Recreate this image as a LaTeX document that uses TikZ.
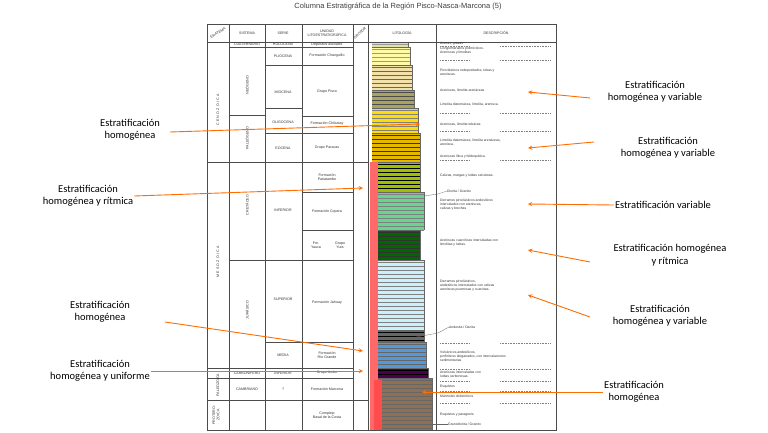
\documentclass[tikz,border=0pt]{standalone}
\usepackage{fontspec}
\setmainfont{Carlito}
\newfontfamily\arl{Liberation Sans}
\begin{document}
\begin{tikzpicture}[x=1pt,y=-1pt,
 lab/.style={font=\fontsize{10.5}{12.5}\selectfont,align=center,text=black,inner sep=1pt},
 arr/.style={draw=orange!85!red,line width=0.9pt,-stealth},
 tx/.style={font=\arl\fontsize{3.6}{4.2}\selectfont,inner sep=0pt,text=black!80},
 ds/.style={font=\arl\fontsize{3.4}{4}\selectfont,inner sep=0pt,anchor=west,text=black!80,align=left},
 grid/.style={draw=black!70,line width=0.4pt}]
\useasboundingbox (0,0) rectangle (768,433);
\fill[white] (0,0) rectangle (768,433);
\node[font=\arl\fontsize{7.5}{8}\selectfont,text=black!75] (title) at (398,7) {Columna Estratigráfica de la Región Pisco-Nasca-Marcona (5)};
% lithology
\foreach \a/\b/\r/\c/\l in {42/47/408/{black!30!yellow!40}/black!40,47/65/410/{yellow!35}/black!40,65/90/412/{yellow!45!brown!40}/black!60,90/108/414/{olive!70!black!60}/black!70,108/133/418/{yellow!80!orange}/black!50,133/162/420/{orange!40!yellow!90!black}/black!80,162/192/420/{lime!50!olive}/black,192/230/424/{teal!55!green!60}/black!50,230/260/420/{green!40!black}/black!80,260/330/424/{cyan!20}/black!50,330/342/424/{black!60}/black,342/368/426/{cyan!60!blue!70}/black!60,368/378/428/{violet!60!black}/black,378/430/432/{brown!60!black!80}/black!60}{
 \fill[\c] (372,\a) rectangle (\r,\b);
 \begin{scope}
 \clip (372,\a) rectangle (\r,\b);
 \foreach \y in {2,6,...,90} \draw[\l,line width=0.3pt] (372,\a+\y) -- (\r,\a+\y);
 \end{scope}
 \draw[black!60,line width=0.2pt] (372,\a) -- (\r,\a) -- (\r,\b);}
\fill[red!45!pink] (370,162) rectangle (378,430);
\fill[red!70] (374,380) rectangle (382,430);
% table
\draw[grid] (207,24) rectangle (556,430);
\draw[grid] (207,42) -- (556,42);
\foreach \x in {229,265,302,353,368,436} \draw[grid] (\x,24) -- (\x,430);
\draw[grid] (207,162) -- (368,162);
\draw[grid] (207,368) -- (302,368);
\draw[grid] (207,400) -- (368,400);
\draw[grid] (229,47) -- (353,47);
\draw[grid] (265,65) -- (302,65) (302,65)--(353,65);
\draw[grid] (265,108) -- (302,108) (302,116)--(353,116);
\draw[grid] (265,133) -- (353,133);
\draw[grid] (229,115) -- (265,115);
\draw[grid] (229,260) -- (353,260);
\draw[grid] (302,192) -- (353,192) (302,230) -- (353,230);
\draw[grid] (265,342) -- (353,342) (229,378) -- (353,378) (302,368) -- (353,368) (207,378)--(229,378);
% headers
\node[tx,rotate=30] (h1) at (218,33) {ERATEMA};
\node[tx] (h2) at (247,33) {SISTEMA};
\node[tx] (h3) at (283,33) {SERIE};
\node[tx,align=center] (h4) at (327,33) {UNIDAD\\LITOESTRATIGRÁFICA};
\node[tx,rotate=45] (h5) at (360,33) {GROSOR};
\node[tx] (h6) at (402,33) {LITOLOGÍA};
\node[tx] (h7) at (496,33) {DESCRIPCIÓN};
\node[tx,rotate=90] (e1) at (218,110) {C\,\,E\,\,N\,\,O\,\,Z\,\,O\,\,I\,\,C\,\,A};
\node[tx,rotate=90] (e2) at (218,262) {M\,\,E\,\,S\,\,O\,\,Z\,\,O\,\,I\,\,C\,\,A};
\node[tx,rotate=90] (e3) at (218,385) {PALEOZOICA};
\node[tx,rotate=90,align=center] (e4) at (216,415) {PROTERO-\\ZOICA};
\node[tx] (s0) at (247,44.5) {CUATERNARIO};
\node[tx,rotate=90] (s1) at (247,85) {NEÓGENO};
\node[tx,rotate=90] (s2) at (247,138) {PALEÓGENO};
\node[tx,rotate=90] (s3) at (247,205) {CRETÁCEO};
\node[tx,rotate=90] (s4) at (247,310) {JURÁSICO};
\node[tx] (s5) at (247,373) {CARBONÍFERO};
\node[tx] (s6) at (247,389) {CAMBRIANO};
\node[tx] (r0) at (283,44.5) {HOLOCENA};
\node[tx] (r1) at (283,56) {PLIOCENA};
\node[tx] (r2) at (283,92) {MIOCENA};
\node[tx] (r3) at (283,122) {OLIGOCENA};
\node[tx] (r4) at (283,148) {EOCENA};
\node[tx] (r5) at (283,210) {INFERIOR};
\node[tx] (r6) at (283,299) {SUPERIOR};
\node[tx] (r7) at (283,355) {MEDIA};
\node[tx] (r8) at (283,373) {INFERIOR};
\node[tx] (r9) at (283,389) {?};
\node[tx] (u0) at (327,44.5) {Depósitos aluviales};
\node[tx] (u1) at (327,56) {Formación Changuillo};
\node[tx] (u2) at (327,92) {Grupo Pisco};
\node[tx] (u3) at (327,124) {Formación Chilcatay};
\node[tx] (u4) at (327,148) {Grupo Paracas};
\node[tx,align=center] (u5) at (327,177) {Formación\\Pariatambo};
\node[tx] (u6) at (327,212) {Formación Copara};
\node[tx,align=center] (u7) at (316,245) {Fm.\\Yauca};
\node[tx,align=center] (u8) at (340,245) {Grupo\\Yura};
\node[tx] (u9) at (327,303) {Formación Jahuay};
\node[tx,align=center] (u10) at (327,355) {Formación\\Río Grande};
\node[tx] (u11) at (327,373) {Grupo Ambo};
\node[tx] (u12) at (327,389) {Formación Marcona};
\node[tx,align=center] (u13) at (327,415) {Complejo\\Basal de la Costa};
% descriptions
\foreach \y/\t in {44/{Arenas, gravas},49/{Conglomerados polimícticos.},53/{Areniscas y limolitas},72/{Piroclásticos redepositados, tobas y\\areniscas.},90/{Areniscas, limolita arenáceas},104/{Limolita diatomácea, limolita, arenisca.},124/{Areniscas, limolita tobácea},142/{Limolita diatomácea, limolita arenáceas,\\arenisca.},157/{Areniscas lítica y feldespática.},176/{Calizas, margas y lutitas calcáreas.},205/{Derrames piroclásticos andesíticos\\intercalados con areniscas,\\calizas y brechas},243/{Areniscas cuarcíticas intercaladas con\\limolitas y lutitas.},286/{Derrames piroclásticos,\\andesíticos intercalados con calizas\\areniscas pizarrosas y cuarcitas.},356/{Volcánicos andesíticos,\\porfiríticos abigarrados, con intercalaciones\\sedimentarias},374/{Areniscas intercaladas con\\lutitas carbonosas.},387/{Esquistos},396/{Mármoles dolomíticos},415/{Esquistos y paragneis.}}
 \node[ds] at (440,\y) {\t};
\node[ds] (dg) at (447,191) {Diorita / Granito};
\node[ds] (ad) at (449,327) {Andesita / Dacita};
\node[ds] (gg) at (448,424) {Granodiorita / Granito};
\draw[black!60,line width=0.3pt] (424,196) -- (438,194) -- (dg.west);
\draw[black!60,line width=0.3pt] (416,337) -- (438,333) -- (ad.west);
\draw[black!60,line width=0.3pt] (432,424) -- (gg.west);
\foreach \y in {46,60,113,131,160,343,369,381,391,403}
 \draw[black!50,line width=0.25pt,dash pattern=on 1pt off 0.6pt] (440,\y) -- (470,\y) (500,\y) -- (550,\y);
% annotations
\node[lab] (L1) at (130,130) {Estratificación\\homogénea};
\node[lab] (L2) at (88,196) {Estratificación\\homogénea y rítmica};
\node[lab] (L3) at (100,312) {Estratificación\\homogénea};
\node[lab] (L4) at (100,371) {Estratificación\\homogénea y uniforme};
\node[lab] (R1) at (655,92) {Estratificación\\homogénea y variable};
\node[lab] (R2) at (668,148) {Estratificación\\homogénea y variable};
\node[lab] (R3) at (663,205) {Estratificación variable};
\node[lab] (R4) at (670,255) {Estratificación homogénea\\y rítmica};
\node[lab] (R5) at (660,316) {Estratificación\\homogénea y variable};
\node[lab] (R6) at (634,392) {Estratificación\\homogénea};
\coordinate (t1) at (420,124); \coordinate (t2) at (363,188);
\coordinate (t3) at (363,351); \coordinate (t4) at (363,371);
\coordinate (p1) at (528,92); \coordinate (p2) at (528,148);
\coordinate (p3) at (528,204); \coordinate (p4) at (528,250);
\coordinate (p5) at (528,295); \coordinate (p6) at (422,392);
\draw[arr] (170,132) -- (t1);
\draw[arr] (L2.east) -- (t2);
\draw[arr] (165,322) -- (t3);
\draw[arr] (L4.east) -- (t4);
\draw[arr] (590,98) -- (p1);
\draw[arr] (594,142) -- (p2);
\draw[arr] (R3.west) -- (p3);
\draw[arr] (590,262) -- (p4);
\draw[arr] (590,317) -- (p5);
\draw[arr] (R6.west) -- (p6);
\end{tikzpicture}
\end{document}
